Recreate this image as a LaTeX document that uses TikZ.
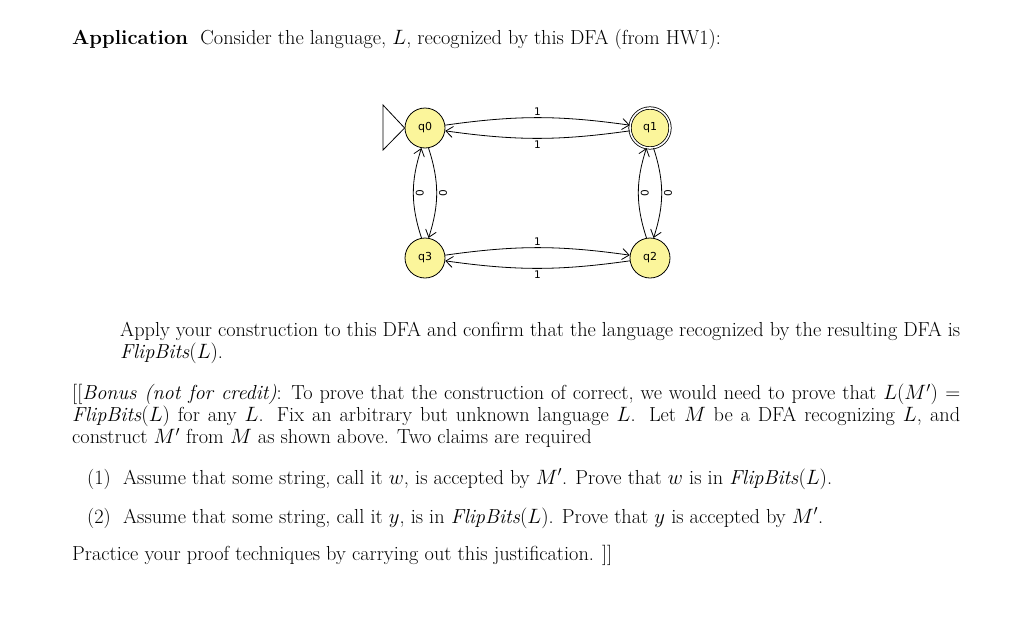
\documentclass[tikz,border=0pt]{standalone}
\usetikzlibrary{arrows.meta}
\usepackage{fontspec}
\newfontfamily\dfafont{DejaVu Sans}
\definecolor{stfill}{HTML}{FBF59B}
\begin{document}
\begin{tikzpicture}[x=1pt,y=-1pt,
  st/.style={circle,draw,line width=0.8pt,fill=stfill,minimum size=40pt,inner sep=0pt,font=\dfafont\fontsize{11}{11}\selectfont},
  tr/.style={-{Straight Barb[length=7pt,width=11pt]},line width=0.8pt},
  lb/.style={font=\dfafont\fontsize{10.5}{10.5}\selectfont,inner sep=2pt},
  txt/.style={anchor=base west,inner sep=0pt,font=\fontsize{20.3}{22}\selectfont},
  para/.style={anchor=north west,inner sep=0pt,align=justify,font=\fontsize{20.3}{22}\selectfont}]
\useasboundingbox (0,0) rectangle (1024,629);
\node[txt] (title) at (72,44) {\textbf{Application}\ \ Consider the language, $L$, recognized by this DFA (from HW1):};
\node[st] (q0) at (425,128) {q0};
\node[st,double,double distance=1.6pt] (q1) at (650,128) {q1};
\node[st] (q3) at (425,258) {q3};
\node[st] (q2) at (650,258) {q2};
\draw[line width=0.8pt] (q0.west) -- (383,105) -- (383,150) -- cycle;
\draw[tr] (q0) to[bend left=8] node[lb,above] {1} (q1);
\draw[tr] (q1) to[bend left=8] node[lb,below] {1} (q0);
\draw[tr] (q3) to[bend left=8] node[lb,above] {1} (q2);
\draw[tr] (q2) to[bend left=8] node[lb,below] {1} (q3);
\draw[tr] (q0.-80) to[bend left=18] node[lb,rotate=90,anchor=north] {0} (q3.80);
\draw[tr] (q3.100) to[bend left=18] node[lb,rotate=90,anchor=north] {0} (q0.-100);
\draw[tr] (q1.-80) to[bend left=18] node[lb,rotate=90,anchor=north] {0} (q2.80);
\draw[tr] (q2.100) to[bend left=18] node[lb,rotate=90,anchor=north] {0} (q1.-100);
\node[para,text width=840pt] (p1) at (120,322) {Apply your construction to this DFA and confirm that the language recognized by the resulting DFA is \textit{FlipBits}$(L)$.};
\node[para,text width=888pt] (p2) at (72,384) {[[\textit{Bonus (not for credit)}: To prove that the construction of correct, we would need to prove that $L(M')=$ \textit{FlipBits}$(L)$ for any $L$. Fix an arbitrary but unknown language $L$. Let $M$ be a DFA recognizing $L$, and construct $M'$ from $M$ as shown above. Two claims are required};
\node[txt] (c1) at (87,484) {(1)\ \ Assume that some string, call it $w$, is accepted by $M'$. Prove that $w$ is in \textit{FlipBits}$(L)$.};
\node[txt] (c2) at (87,523) {(2)\ \ Assume that some string, call it $y$, is in \textit{FlipBits}$(L)$. Prove that $y$ is accepted by $M'$.};
\node[txt] (pr) at (72,560) {Practice your proof techniques by carrying out this justification. ]]};
\end{tikzpicture}
\end{document}
